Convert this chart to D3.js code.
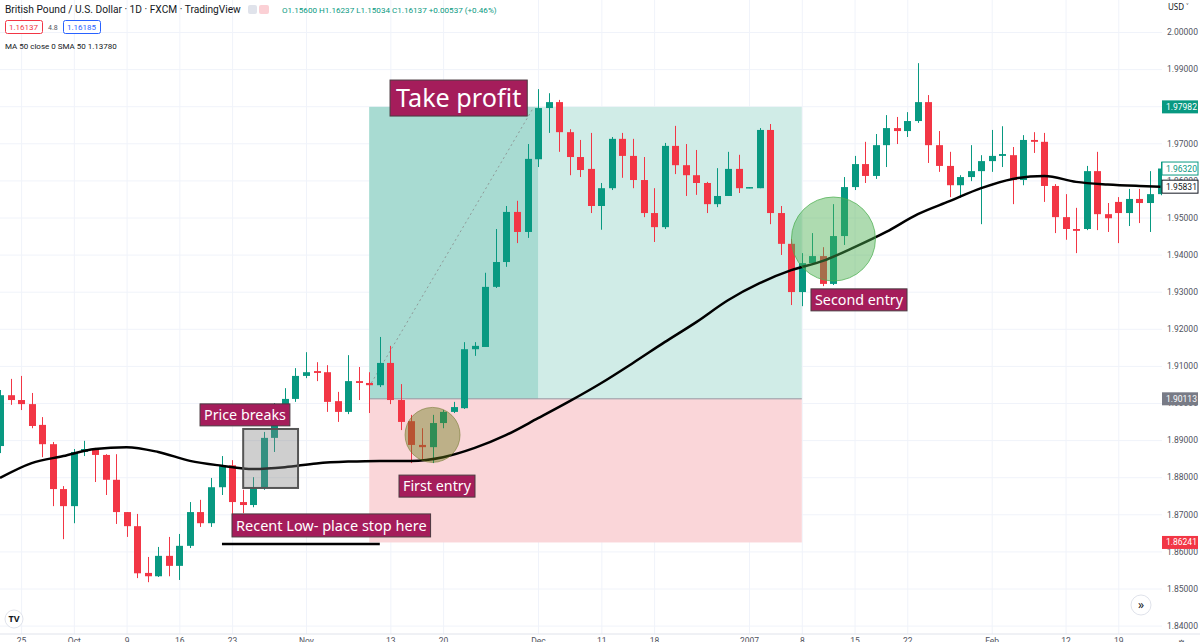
<!DOCTYPE html>
<html>
<head>
<meta charset="utf-8">
<script src="https://cdn.jsdelivr.net/npm/d3@7"></script>
<style>
  body { margin: 0; background: #fff; }
  svg { display: block; font-family: "Noto Sans", Roboto, sans-serif; }
</style>
</head>
<body>
<svg></svg>
<script>
// daily GBP/USD candles, index 0 = Sep 21 2006 ... 110 = Feb 23 2007
const opens = [1.8884,1.9021,1.9008,1.8997,1.8941,1.8889,1.8768,1.8722,1.8868,1.8876,1.8860,1.8793,1.8706,1.8668,1.8542,1.8533,1.8588,1.8561,1.8615,1.8706,1.8676,1.8773,1.8832,1.8733,1.8725,1.8771,1.8906,1.8965,1.9011,1.9073,1.9086,1.9083,1.9005,1.8976,1.9059,1.9054,1.9048,1.9108,1.9008,1.8951,1.8887,1.8881,1.8946,1.8976,1.8986,1.9145,1.9151,1.9313,1.9380,1.9515,1.9461,1.9657,1.9795,1.9811,1.9730,1.9663,1.9631,1.9531,1.9579,1.9712,1.9666,1.9601,1.9512,1.9474,1.9693,1.9641,1.9614,1.9593,1.9536,1.9558,1.9631,1.9579,1.9579,1.9736,1.9512,1.9429,1.9299,1.9377,1.9396,1.9321,1.9450,1.9582,1.9644,1.9612,1.9695,1.9741,1.9733,1.9760,1.9811,1.9695,1.9639,1.9587,1.9609,1.9625,1.9652,1.9666,1.9668,1.9601,1.9709,1.9704,1.9585,1.9501,1.9469,1.9469,1.9625,1.9509,1.9542,1.9512,1.9550,1.9539,1.9563];
const highs = [1.9035,1.9065,1.9073,1.9027,1.8962,1.8895,1.8776,1.8876,1.8898,1.8879,1.8862,1.8862,1.8706,1.8701,1.8585,1.8612,1.8639,1.8647,1.8733,1.8739,1.8798,1.8857,1.8846,1.8766,1.8800,1.8922,1.9000,1.9040,1.9094,1.9137,1.9110,1.9102,1.9030,1.9129,1.9097,1.9083,1.9178,1.9154,1.9051,1.8968,1.8932,1.8968,1.8981,1.9003,1.9164,1.9164,1.9351,1.9469,1.9531,1.9545,1.9698,1.9846,1.9835,1.9817,1.9738,1.9709,1.9728,1.9593,1.9717,1.9728,1.9712,1.9663,1.9579,1.9701,1.9747,1.9698,1.9682,1.9596,1.9633,1.9677,1.9669,1.9582,1.9741,1.9752,1.9531,1.9442,1.9404,1.9458,1.9420,1.9536,1.9609,1.9666,1.9704,1.9725,1.9776,1.9771,1.9784,1.9916,1.9830,1.9733,1.9677,1.9614,1.9695,1.9668,1.9736,1.9746,1.9690,1.9722,1.9730,1.9728,1.9590,1.9563,1.9526,1.9639,1.9677,1.9539,1.9555,1.9577,1.9577,1.9625,1.9650];
const lows = [1.8865,1.8995,1.8981,1.8932,1.8854,1.8722,1.8633,1.8676,1.8857,1.8787,1.8752,1.8674,1.8639,1.8528,1.8517,1.8531,1.8533,1.8523,1.8609,1.8666,1.8666,1.8752,1.8701,1.8703,1.8719,1.8766,1.8868,1.8960,1.9003,1.9067,1.9059,1.8976,1.8949,1.8970,1.9008,1.8973,1.9043,1.8997,1.8927,1.8838,1.8849,1.8838,1.8932,1.8973,1.8984,1.9127,1.9151,1.9310,1.9367,1.9431,1.9445,1.9636,1.9728,1.9677,1.9614,1.9609,1.9512,1.9467,1.9574,1.9607,1.9579,1.9501,1.9434,1.9469,1.9617,1.9558,1.9561,1.9512,1.9528,1.9558,1.9566,1.9579,1.9579,1.9482,1.9399,1.9264,1.9261,1.9375,1.9315,1.9318,1.9426,1.9574,1.9593,1.9604,1.9636,1.9698,1.9717,1.9755,1.9647,1.9623,1.9555,1.9553,1.9598,1.9482,1.9623,1.9636,1.9536,1.9587,1.9674,1.9542,1.9458,1.9440,1.9404,1.9466,1.9466,1.9461,1.9431,1.9477,1.9485,1.9461,1.9560];
const closes = [1.9021,1.9008,1.8997,1.8938,1.8889,1.8768,1.8722,1.8868,1.8876,1.8860,1.8793,1.8706,1.8668,1.8541,1.8533,1.8588,1.8561,1.8615,1.8706,1.8676,1.8773,1.8832,1.8733,1.8725,1.8771,1.8906,1.8965,1.9011,1.9073,1.9083,1.9081,1.9003,1.8976,1.9059,1.9054,1.9048,1.9108,1.9008,1.8949,1.8887,1.8881,1.8946,1.8976,1.8989,1.9145,1.9154,1.9313,1.9380,1.9515,1.9461,1.9658,1.9795,1.9811,1.9730,1.9663,1.9628,1.9531,1.9579,1.9712,1.9666,1.9601,1.9512,1.9474,1.9693,1.9641,1.9614,1.9593,1.9536,1.9558,1.9631,1.9579,1.9582,1.9736,1.9512,1.9429,1.9299,1.9377,1.9396,1.9321,1.9450,1.9582,1.9644,1.9612,1.9695,1.9741,1.9733,1.9760,1.9811,1.9695,1.9639,1.9587,1.9609,1.9625,1.9652,1.9666,1.9671,1.9601,1.9709,1.9704,1.9585,1.9501,1.9469,1.9464,1.9625,1.9509,1.9498,1.9512,1.9550,1.9539,1.9563,1.9632];

// 50-day SMA, read every third bar
const maIdx = [0,3,6,9,12,15,18,21,24,27,30,33,36,39,42,45,48,51,54,57,60,63,66,69,72,75,78,81,84,87,90,93,96,99,102,105,108,110];
const maVals = [1.8798,1.8838,1.8857,1.8876,1.8881,1.8868,1.8844,1.8831,1.8822,1.8827,1.8837,1.8842,1.8844,1.8844,1.8854,1.8879,1.8914,1.8959,1.9005,1.9054,1.9108,1.9164,1.9218,1.9277,1.9323,1.9358,1.9383,1.9420,1.9461,1.9509,1.9544,1.9579,1.9604,1.9612,1.9596,1.9589,1.9585,1.9583];

const tickIdx = [2,7,12,17,22,29,37,42,51,57,62,71,76,81,86,94,101,106];
const tickLabels = ["25","Oct","9","16","23","Nov","13","20","Dec","11","18","2007","8","15","22","Feb","12","19"];
const priceTicks = [2.00,1.99,1.98,1.97,1.96,1.95,1.94,1.93,1.92,1.91,1.90,1.89,1.88,1.87,1.86,1.85,1.84];

// long position tool
const entryPrice = 1.90113, targetPrice = 1.97982, stopPrice = 1.86241;
const posStart = 35, posHit = 51, posEnd = 76;

const svg = d3.select("svg").attr("width", 1200).attr("height", 642);
const plotW = 1162, plotH = 634;

const green = "#089981", red = "#f23645";

const x = d3.scaleLinear().domain([0, 110]).range([0, 1160.5]);
const y = d3.scaleLinear().domain([1.84, 2.0]).range([625.6, 32]);

svg.append("defs").append("clipPath").attr("id", "clip")
  .append("rect").attr("width", plotW).attr("height", plotH);

// grid
const gridY = svg.append("g")
  .call(d3.axisLeft(y).tickValues(priceTicks).tickSize(-plotW).tickFormat(""));
gridY.select(".domain").remove();
gridY.selectAll(".tick line").attr("stroke", "#f0f3fa").attr("x1", 0).attr("x2", plotW);

const gridX = svg.append("g").attr("transform", `translate(0,${plotH})`)
  .call(d3.axisBottom(x).tickValues(tickIdx).tickSize(-plotH).tickFormat(""));
gridX.select(".domain").remove();
gridX.selectAll("line").attr("stroke", "#f0f3fa");

const plot = svg.append("g").attr("clip-path", "url(#clip)");

// position tool zones
plot.append("rect")
  .attr("x", x(posStart)).attr("width", x(posEnd) - x(posStart))
  .attr("y", y(targetPrice)).attr("height", y(entryPrice) - y(targetPrice))
  .attr("fill", "#d0ece7");
plot.append("rect")
  .attr("x", x(posStart)).attr("width", x(posHit) - x(posStart))
  .attr("y", y(targetPrice)).attr("height", y(entryPrice) - y(targetPrice))
  .attr("fill", "#a8dbd2");
plot.append("rect")
  .attr("x", x(posStart)).attr("width", x(posEnd) - x(posStart))
  .attr("y", y(entryPrice)).attr("height", y(stopPrice) - y(entryPrice))
  .attr("fill", "#fad6d9");
plot.append("line")
  .attr("x1", x(posStart)).attr("x2", x(posEnd))
  .attr("y1", y(entryPrice)).attr("y2", y(entryPrice))
  .attr("stroke", "#9598a1").attr("stroke-width", 1);
plot.append("line")
  .attr("x1", x(posStart + 0.2)).attr("y1", y(1.9054))
  .attr("x2", x(posHit - 0.5)).attr("y2", y(targetPrice - 0.0005))
  .attr("stroke", "#8f9a98").attr("stroke-width", 1).attr("stroke-dasharray", "2,3");

// candles
const bars = d3.range(opens.length);
const bw = 7;
const candle = plot.append("g").selectAll("g").data(bars).join("g")
  .attr("fill", i => closes[i] >= opens[i] ? green : red)
  .attr("stroke", i => closes[i] >= opens[i] ? green : red);
candle.append("line")
  .attr("x1", i => Math.round(x(i)) + 0.5).attr("x2", i => Math.round(x(i)) + 0.5)
  .attr("y1", i => y(highs[i])).attr("y2", i => y(lows[i]))
  .attr("stroke-width", 1);
candle.append("rect")
  .attr("stroke", "none")
  .attr("x", i => Math.round(x(i)) + 0.5 - bw / 2).attr("width", bw)
  .attr("y", i => y(Math.max(opens[i], closes[i])))
  .attr("height", i => Math.max(1.5, Math.abs(y(opens[i]) - y(closes[i]))));

// moving average
const ma = maIdx.map((d, k) => [d, maVals[k]]);
plot.append("path").datum(ma)
  .attr("fill", "none").attr("stroke", "#000").attr("stroke-width", 2.5)
  .attr("d", d3.line().x(d => x(d[0])).y(d => y(d[1])).curve(d3.curveMonotoneX));

// gray "break" box
plot.append("rect")
  .attr("x", x(23.05)).attr("width", x(28.25) - x(23.05))
  .attr("y", y(1.8930)).attr("height", y(1.8771) - y(1.8930))
  .attr("fill", "rgba(128,128,128,0.38)").attr("stroke", "#555").attr("stroke-width", 2);

// entry circles
plot.append("circle").attr("cx", x(41)).attr("cy", y(1.8914)).attr("r", 27.5)
  .attr("fill", "rgba(105,125,25,0.42)").attr("stroke", "rgba(100,110,30,0.5)");
plot.append("circle").attr("cx", x(79)).attr("cy", y(1.9442)).attr("r", 42)
  .attr("fill", "rgba(76,175,80,0.45)").attr("stroke", "rgba(76,175,80,0.75)");

// stop line
plot.append("line")
  .attr("x1", x(21.04)).attr("x2", x(36))
  .attr("y1", y(1.8620)).attr("y2", y(1.8620))
  .attr("stroke", "#000").attr("stroke-width", 2.5);

// text labels
const label = (text, idx, price, size, padX, h) => {
  const g = svg.append("g");
  const t = g.append("text").attr("x", x(idx) + padX).attr("y", y(price))
    .attr("dy", "0.35em").attr("fill", "#fff").attr("font-size", size).text(text);
  const w = t.node().getComputedTextLength() + padX * 2;
  g.insert("rect", "text").attr("x", x(idx)).attr("y", y(price) - h / 2)
    .attr("width", w).attr("height", h)
    .attr("fill", "#a51d5b").attr("stroke", "#4a3a40").attr("stroke-width", 1);
};
label("Take profit", 36.97, 1.9822, 25.2, 6, 36);
label("Price breaks", 18.96, 1.8968, 14.3, 4, 22);
label("Recent Low- place stop here", 21.99, 1.8670, 14.5, 4, 23);
label("First entry", 37.82, 1.8776, 14.3, 4, 22);
label("Second entry", 76.87, 1.9278, 14.3, 4, 22);

// price scale
const yAxis = svg.append("g").attr("transform", `translate(${plotW},0)`)
  .call(d3.axisRight(y).tickValues(priceTicks).tickSize(0).tickPadding(5).tickFormat(d3.format(".5f")));
yAxis.select(".domain").remove();
yAxis.selectAll("text").attr("font-size", 8.5).attr("fill", "#50535e").attr("font-family", "Roboto, sans-serif");

const tag = (price, fill, stroke, color) => {
  const g = svg.append("g").attr("transform", `translate(${plotW},${y(price)})`);
  g.append("rect").attr("x", 0).attr("y", -6.5).attr("width", 36).attr("height", 13)
    .attr("fill", fill).attr("stroke", stroke);
  g.append("text").attr("x", 4).attr("dy", "0.35em").attr("font-size", 8.5)
    .attr("font-family", "Roboto, sans-serif").attr("fill", color)
    .text(d3.format(".5f")(price));
};
tag(targetPrice, green, "none", "#fff");
tag(1.96320, "#fff", green, green);
tag(1.95831, "#fff", "#131722", "#131722");
tag(entryPrice, "#787b86", "none", "#fff");
tag(stopPrice, red, "none", "#fff");

svg.append("text").attr("x", 1168).attr("y", 10).attr("font-size", 8)
  .attr("fill", "#131722").text("USD ˅");

// time scale
svg.append("line").attr("x1", 0).attr("x2", 1200).attr("y1", plotH).attr("y2", plotH)
  .attr("stroke", "#e0e3eb");
const xAxis = svg.append("g").attr("transform", `translate(0,${plotH})`)
  .call(d3.axisBottom(x).tickValues(tickIdx).tickSize(0).tickPadding(4)
    .tickFormat((d, k) => tickLabels[k]));
xAxis.select(".domain").remove();
xAxis.selectAll("text").attr("font-size", 8.5).attr("fill", "#50535e").attr("font-family", "Roboto, sans-serif");

// header
const head = svg.append("g").attr("font-family", "Roboto, sans-serif");
head.append("text").attr("x", 5).attr("y", 13).attr("font-size", 10.2).attr("fill", "#131722")
  .text("British Pound / U.S. Dollar · 1D · FXCM · TradingView");
head.append("rect").attr("x", 248).attr("y", 5).attr("width", 9).attr("height", 9).attr("rx", 2).attr("fill", "#e0e3eb");
head.append("rect").attr("x", 259).attr("y", 5).attr("width", 10).attr("height", 9).attr("rx", 2).attr("fill", "#fbd0d5");
head.append("text").attr("x", 282).attr("y", 13).attr("font-size", 8.1).attr("fill", green)
  .text("O1.15600 H1.16237 L1.15034 C1.16137 +0.00537 (+0.46%)");
head.append("rect").attr("x", 5.5).attr("y", 20.5).attr("width", 37).attr("height", 13).attr("rx", 2)
  .attr("fill", "#fff").attr("stroke", red);
head.append("text").attr("x", 9).attr("y", 30).attr("font-size", 8).attr("fill", red).text("1.16137");
head.append("text").attr("x", 48).attr("y", 30).attr("font-size", 7).attr("fill", "#50535e").text("4.8");
head.append("rect").attr("x", 63.5).attr("y", 20.5).attr("width", 37).attr("height", 13).attr("rx", 2)
  .attr("fill", "#fff").attr("stroke", "#2962ff");
head.append("text").attr("x", 67).attr("y", 30).attr("font-size", 8).attr("fill", "#2962ff").text("1.16185");
head.append("text").attr("x", 5).attr("y", 49).attr("font-size", 8).attr("fill", "#131722")
  .text("MA 50 close 0 SMA 50  1.13780");

// corner widgets
svg.append("circle").attr("cx", 14).attr("cy", 619).attr("r", 9).attr("fill", "#fff").attr("stroke", "#e0e3eb");
svg.append("text").attr("x", 14).attr("y", 622).attr("text-anchor", "middle").attr("font-size", 9)
  .attr("font-weight", "bold").attr("fill", "#131722").text("TV");
svg.append("circle").attr("cx", 1141).attr("cy", 605).attr("r", 10).attr("fill", "#fff").attr("stroke", "#e0e3eb");
svg.append("text").attr("x", 1141).attr("y", 609).attr("text-anchor", "middle").attr("font-size", 12)
  .attr("fill", "#131722").text("»");
svg.append("text").attr("x", 1181).attr("y", 647).attr("text-anchor", "middle").attr("font-size", 10)
  .attr("fill", "#50535e").text("⚙");
</script>
</body>
</html>
